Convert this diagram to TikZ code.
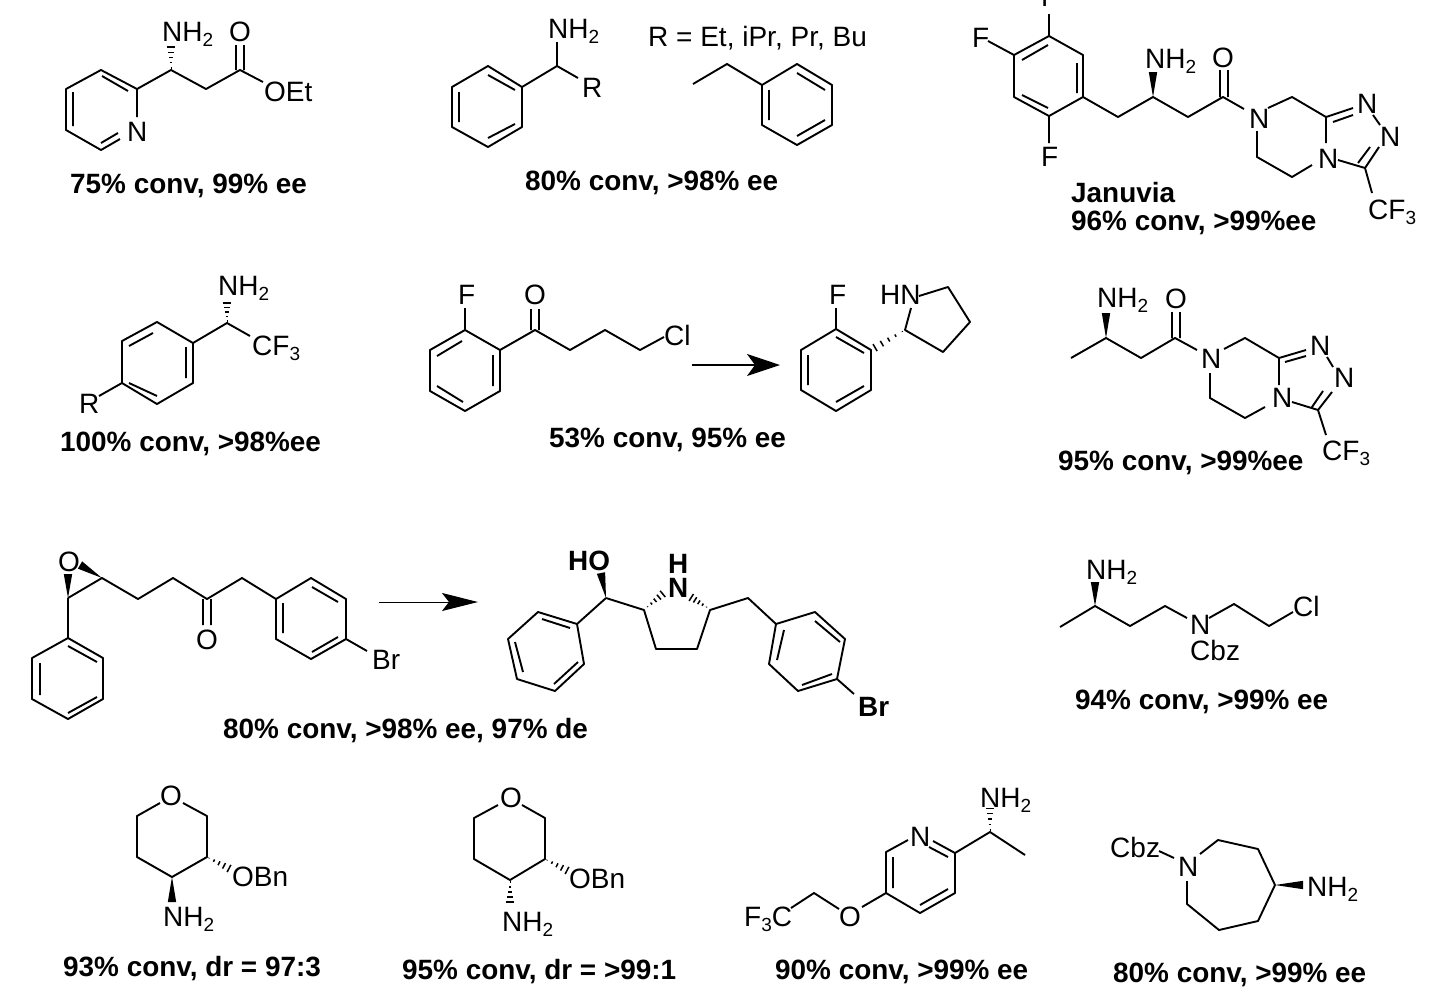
\documentclass[tikz,border=0pt]{standalone}
\usepackage{fontspec}
\setmainfont{Liberation Sans}
\usetikzlibrary{calc,arrows.meta}
\newcommand{\subnum}[1]{\raisebox{-5.5pt}{\fontsize{19}{20}\selectfont #1}}
\newcommand{\wedgebond}[2]{\fill #1 -- ($#2!4.2pt!90:#1$) -- ($#2!4.2pt!-90:#1$) -- cycle;}
\newcommand{\hashbond}[2]{\foreach \t in {0.08,0.28,0.48,0.68,0.88}{
	\draw[line width=1.5pt] ($#1!\t!#2!\t*4.6pt!90:#2$) -- ($#1!\t!#2!\t*4.6pt!-90:#2$);}}
\tikzset{
	bond/.style={line width=1.9pt, line join=round},
	atom/.style={anchor=base west, inner sep=0pt, font=\fontsize{28}{30}\selectfont},
	yieldtext/.style={atom, font=\fontsize{27.9}{30}\selectfont\bfseries},
	reactarrow/.style={-{Stealth[length=33pt, width=22pt, inset=8pt]}}
}
\begin{document}
\begin{tikzpicture}[x=1pt, y=-1pt]
	\useasboundingbox (0,0) rectangle (1434,1005);
	% first row, pyridine ester
	\draw[bond] (137,117) -- (137,89) -- (101,70) -- (66,89) -- (66,130) -- (101,150) -- (120,139)
	(102,76) -- (128,91) (73,92) -- (73,126) (101,143) -- (118,133)
	(137,89) -- (171,70) -- (206,89) -- (240,70) -- (263,82)
	(236,70) -- (236,45) (244,70) -- (244,45);
	\hashbond{(171,70)}{(171,44)}
	\node[atom] (nhA) at (162,41) {NH\subnum{2}};
	\node[atom] (oA) at (229,41) {O};
	\node[atom] (oetA) at (264,101) {OEt};
	\node[atom] (nA) at (127,141) {N};
	\node[yieldtext] (capA) at (70,193) {75\% conv, 99\% ee};
	% first row, benzylic amine
	\draw[bond] (488,66) -- (522,87) -- (522,127) -- (488,147) -- (452,127) -- (452,87) -- cycle
	(459,92) -- (459,122) (488,75) -- (515,90) (488,138) -- (515,124)
	(522,87) -- (557,66) -- (557,42) (557,66) -- (578,78)
	(693,84) -- (727,64) -- (762,85)
	(762,85) -- (797,64) -- (832,85) -- (832,125) -- (797,145) -- (762,125) -- cycle
	(769,90) -- (769,120) (797,73) -- (825,90) (797,136) -- (825,120);
	\node[atom] (nhB) at (548,38) {NH\subnum{2}};
	\node[atom] (rB) at (582,97) {R};
	\node[atom] (listB) at (648,46) {R = Et, iPr, Pr, Bu};
	\node[yieldtext] (capB) at (525,190) {80\% conv, >98\% ee};
	% first row, Januvia
	\draw[bond] (1083,97) -- (1083,55) -- (1049,36) -- (1014,55) -- (1014,97) -- (1049,116) -- cycle
	(1022,60) -- (1048,45) (1077,63) -- (1077,93) (1022,95) -- (1048,108)
	(1049,36) -- (1049,14) (1014,55) -- (988,41) (1049,116) -- (1049,143)
	(1083,97) -- (1118,117) -- (1153,97) -- (1188,117) -- (1223,97) -- (1244,109)
	(1220,97) -- (1220,70) (1228,97) -- (1228,70)
	(1268,108) -- (1292,97) -- (1326,117) -- (1353,108) (1333,122) -- (1353,115)
	(1373,115) -- (1380,125) (1379,147) -- (1365,168) -- (1338,160) (1370,147) -- (1358,163)
	(1326,117) -- (1326,143) (1312,165) -- (1292,177) -- (1257,157) -- (1257,131)
	(1365,168) -- (1372,193);
	\wedgebond{(1153,97)}{(1153,72)}
	\node[atom] (ftopC) at (1041,6) {F};
	\node[atom] (fleftC) at (972,47) {F};
	\node[atom] (fbotC) at (1041,166) {F};
	\node[atom] (nhC) at (1145,68) {NH\subnum{2}};
	\node[atom] (oC) at (1212,67) {O};
	\node[atom] (namC) at (1249,128) {N};
	\node[atom] (ntopC) at (1357,113) {N};
	\node[atom] (nrightC) at (1380,146) {N};
	\node[atom] (nlowC) at (1318,168) {N};
	\node[atom] (cfC) at (1368,219) {CF\subnum{3}};
	\node[yieldtext] (nameC) at (1071,202) {Januvia};
	\node[yieldtext] (capC) at (1071,230) {96\% conv, >99\%ee};
	% second row, trifluoroethylamine
	\draw[bond] (193,343) -- (193,383) -- (157,404) -- (122,383) -- (122,341) -- (157,322) -- cycle
	(129,346) -- (153,333) (186,347) -- (186,378) (129,383) -- (157,396)
	(193,343) -- (227,323) -- (250,336) (122,383) -- (99,396);
	\hashbond{(227,323)}{(227,300)}
	\node[atom] (nhD) at (218,295) {NH\subnum{2}};
	\node[atom] (cfD) at (252,355) {CF\subnum{3}};
	\node[atom] (rD) at (79,413) {R};
	\node[yieldtext] (capD) at (60,451) {100\% conv, >98\%ee};
	% second row, chloroketone to pyrrolidine
	\draw[bond] (465,330) -- (500,350) -- (500,391) -- (465,411) -- (430,391) -- (430,350) -- cycle
	(437,356) -- (462,341) (493,355) -- (493,386) (437,386) -- (463,402)
	(465,330) -- (465,308)
	(500,350) -- (535,330) -- (570,350) -- (605,330) -- (640,350) -- (664,337)
	(531,330) -- (531,309) (539,330) -- (539,309);
	\node[atom] (fE) at (458,304) {F};
	\node[atom] (oE) at (524,304) {O};
	\node[atom] (clE) at (664,345) {Cl};
	\draw[line width=1.5pt, reactarrow] (692,365) -- (780,365);
	\draw[bond] (836,329) -- (871,350) -- (871,390) -- (836,411) -- (801,390) -- (801,350) -- cycle
	(836,337) -- (864,353) (864,386) -- (836,402) (808,355) -- (808,385)
	(836,329) -- (836,308)
	(911,308) -- (905,330) -- (943,352) -- (970,322) -- (948,287) -- (919,296);
	\hashbond{(905,330)}{(871,350)}
	\node[atom] (fF) at (829,304) {F};
	\node[atom] (hnF) at (880,304) {HN};
	\node[yieldtext] (capE) at (549,447) {53\% conv, 95\% ee};
	% second row, triazole amide
	\draw[bond] (1071,358) -- (1106,338) -- (1141,358) -- (1175,338) -- (1197,350)
	(1172,338) -- (1172,312) (1180,338) -- (1180,312)
	(1224,349) -- (1245,338) -- (1279,358) -- (1306,350) (1285,362) -- (1306,356)
	(1327,357) -- (1333,367) (1332,392) -- (1318,410) -- (1292,402) (1323,391) -- (1312,407)
	(1279,358) -- (1279,385) (1265,407) -- (1245,418) -- (1210,398) -- (1210,373)
	(1318,410) -- (1326,435);
	\wedgebond{(1106,338)}{(1106,313)}
	\node[atom] (nhG) at (1097,307) {NH\subnum{2}};
	\node[atom] (oG) at (1165,308) {O};
	\node[atom] (namG) at (1201,368) {N};
	\node[atom] (ntopG) at (1310,355) {N};
	\node[atom] (nrightG) at (1334,387) {N};
	\node[atom] (nlowG) at (1272,407) {N};
	\node[atom] (cfG) at (1322,460) {CF\subnum{3}};
	\node[yieldtext] (capG) at (1058,470) {95\% conv, >99\%ee};
	% third row, epoxy ketone
	\draw[bond] (68,598) -- (102,578) -- (138,599) -- (173,578) -- (207,599) -- (242,578) -- (276,599)
	(203,599) -- (203,625) (211,599) -- (211,625)
	(276,599) -- (311,578) -- (346,599) -- (346,639) -- (311,659) -- (276,639) -- cycle
	(283,603) -- (283,633) (312,587) -- (338,602) (312,652) -- (338,637)
	(346,639) -- (367,651)
	(68,598) -- (68,638)
	(68,638) -- (103,658) -- (103,699) -- (68,719) -- (32,699) -- (32,658) -- cycle
	(40,663) -- (40,695) (68,646) -- (97,662) (68,713) -- (97,697);
	\wedgebond{(102,578)}{(80,565)}
	\wedgebond{(68,598)}{(68,574)}
	\node[atom] (oH) at (58,571) {O};
	\node[atom] (ketH) at (196,649) {O};
	\node[atom] (brH) at (372,669) {Br};
	\draw[line width=1pt, -{Stealth[length=36pt, width=18pt, inset=7pt]}] (379,602) -- (478,602);
	% third row, pyrrolidine product
	\draw[bond] (606,598) -- (644,610) -- (656,649) -- (697,649) -- (710,610) -- (748,598) -- (776,624)
	(606,598) -- (577,624)
	(577,624) -- (538,612) -- (508,639) -- (517,679) -- (555,691) -- (584,664) -- cycle
	(542,619) -- (570,628) (515,642) -- (523,672) (554,684) -- (578,662)
	(776,624) -- (815,612) -- (845,639) -- (837,679) -- (798,691) -- (769,664) -- cycle
	(784,630) -- (777,660) (815,621) -- (840,642) (802,685) -- (832,674)
	(837,679) -- (854,694);
	\wedgebond{(606,598)}{(601,573)}
	\hashbond{(646,608)}{(665,592)}
	\hashbond{(708,608)}{(689,596)}
	\node[yieldtext] (hoJ) at (568,570) {HO};
	\node[yieldtext, align=center] (nJ) at (668,597) {H\\[-6pt]N};
	\node[yieldtext] (brJ) at (858,716) {Br};
	\node[yieldtext] (capJ) at (223,738) {80\% conv, >98\% ee, 97\% de};
	% third row, chloroethyl amine
	\draw[bond] (1060,627) -- (1095,606) -- (1130,626) -- (1165,606) -- (1187,618)
	(1209,618) -- (1234,604) -- (1269,626) -- (1293,612);
	\wedgebond{(1095,606)}{(1095,582)}
	\node[atom] (nhK) at (1086,579) {NH\subnum{2}};
	\node[atom] (nK) at (1190,634) {N};
	\node[atom] (clK) at (1293,616) {Cl};
	\node[atom] (cbzK) at (1190,660) {Cbz};
	\node[yieldtext] (capK) at (1075,709) {94\% conv, >99\% ee};
	% fourth row, tetrahydropyrans
	\draw[bond] (160,803) -- (137,816) -- (137,857) -- (172,877) -- (207,857) -- (207,816) -- (183,803);
	\wedgebond{(172,877)}{(172,902)}
	\hashbond{(207,857)}{(232,870)}
	\node[atom] (oL) at (160,805) {O};
	\node[atom] (nhL) at (163,926) {NH\subnum{2}};
	\node[atom] (obnL) at (232,886) {OBn};
	\node[yieldtext] (capL) at (63,976) {93\% conv, dr = 97:3};
	\draw[bond] (498,805) -- (474,818) -- (474,859) -- (510,880) -- (545,859) -- (545,818) -- (522,805);
	\hashbond{(510,880)}{(510,905)}
	\hashbond{(545,859)}{(570,872)}
	\node[atom] (oM) at (500,807) {O};
	\node[atom] (nhM) at (502,931) {NH\subnum{2}};
	\node[atom] (obnM) at (569,888) {OBn};
	\node[yieldtext] (capM) at (402,979) {95\% conv, dr = >99:1};
	% fourth row, pyridine ether
	\draw[bond] (908,840) -- (886,852) -- (886,893) -- (920,913) -- (955,893) -- (955,853) -- (933,841)
	(893,857) -- (893,888) (920,905) -- (948,889) (948,857) -- (929,847)
	(955,853) -- (990,832) -- (1025,855)
	(886,893) -- (862,907) (839,909) -- (814,893) -- (791,908);
	\hashbond{(990,832)}{(990,805)}
	\node[atom] (nN) at (910,846) {N};
	\node[atom] (nhN) at (980,807) {NH\subnum{2}};
	\node[atom] (oN) at (839,926) {O};
	\node[atom] (cfN) at (744,926) {F\subnum{3}C};
	\node[yieldtext] (capN) at (775,979) {90\% conv, >99\% ee};
	% fourth row, azepane
	\draw[bond] (1159,851) -- (1174,858)
	(1200,854) -- (1218,840) -- (1258,849) -- (1275,885) -- (1258,921) -- (1219,930) -- (1187,904) -- (1187,881);
	\wedgebond{(1275,885)}{(1303,885)}
	\node[atom] (cbzP) at (1110,857) {Cbz};
	\node[atom] (nP) at (1178,876) {N};
	\node[atom] (nhP) at (1307,896) {NH\subnum{2}};
	\node[yieldtext] (capP) at (1113,982) {80\% conv, >99\% ee};
\end{tikzpicture}
\end{document}
